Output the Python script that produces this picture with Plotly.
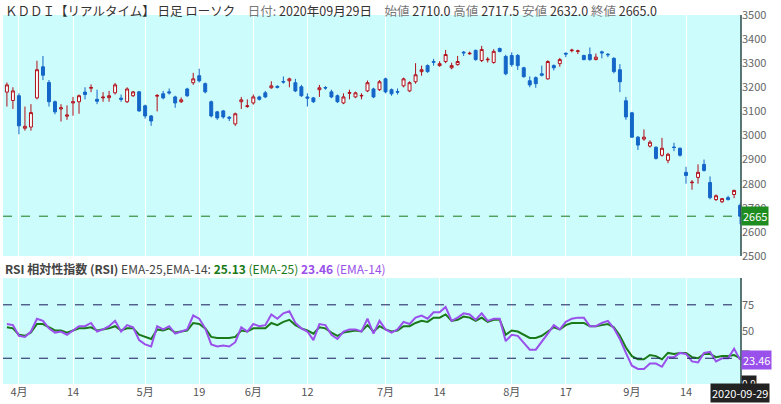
import pandas as pd
import plotly.graph_objects as go
from plotly.subplots import make_subplots

holidays = ["2020-04-29","2020-05-04","2020-05-05","2020-05-06","2020-07-23","2020-07-24","2020-08-10","2020-09-21","2020-09-22"]
dates = [d for d in pd.bdate_range("2020-03-30","2020-09-29").strftime("%Y-%m-%d") if d not in holidays]

opens = [3180,3145,3165,3030,3035,3156,3285,3220,3140,3110,3080,3135,3140,3180,3196,3150,3156,3157,3177,3155,
 3140,3165,3181,3123,3081,3163,3173,3181,3160,3140,3193,3219,3248,3215,3140,3098,3102,3076,3048,3140,
 3120,3135,3160,3177,3198,3204,3224,3227,3219,3202,3160,3156,3190,3199,3181,3165,3135,3175,3160,3164,
 3185,3193,3190,3235,3190,3182,3206,3185,3223,3265,3290,3307,3290,3307,3281,3294,3346,3339,3353,3311,
 3314,3303,3361,3328,3332,3332,3281,3227,3240,3256,3235,3290,3298,3341,3352,3349,3332,3336,3315,3347,
 3337,3320,3273,3144,3094,2993,2985,2956,2951,2918,2897,2952,2947,2847,2804,2826,2880,2805,2734,2725,
 2742,2755,2710]
closes = [3210,3185,3040,3038,3095,3273,3250,3140,3098,3115,3085,3140,3165,3170,3199,3142,3159,3165,3210,3150,
 3193,3181,3102,3081,3060,3166,3156,3177,3135,3148,3165,3235,3227,3181,3081,3073,3077,3072,3090,3148,
 3123,3160,3150,3160,3206,3200,3222,3235,3185,3165,3155,3140,3198,3197,3160,3140,3160,3178,3177,3166,
 3219,3160,3223,3181,3173,3180,3235,3219,3252,3273,3265,3304,3298,3336,3290,3307,3343,3341,3315,3357,
 3316,3349,3349,3256,3294,3290,3244,3210,3215,3250,3307,3281,3315,3338,3354,3351,3315,3315,3325,3343,
 3335,3265,3223,3077,2993,2960,2993,2972,2905,2947,2922,2950,2918,2834,2806,2847,2855,2742,2750,2738,
 2734,2772,2665]
highs = [3220,3200,3175,3120,3130,3310,3330,3230,3145,3130,3125,3160,3170,3200,3212,3190,3180,3185,3218,3170,
 3200,3185,3185,3128,3085,3172,3185,3195,3165,3158,3198,3260,3277,3220,3145,3102,3106,3080,3095,3160,
 3150,3170,3165,3185,3225,3208,3245,3240,3235,3210,3175,3160,3210,3205,3190,3170,3175,3190,3182,3175,
 3228,3198,3230,3240,3195,3195,3240,3225,3300,3290,3295,3318,3308,3355,3302,3330,3350,3348,3357,3372,
 3325,3358,3365,3335,3345,3338,3285,3245,3245,3290,3312,3295,3322,3345,3360,3356,3335,3365,3340,3352,
 3342,3325,3296,3160,3098,2998,3025,2980,2955,2990,2928,2970,2950,2870,2815,2880,2900,2830,2755,2740,
 2750,2775,2717.5]
lows = [3120,3110,3005,3020,3020,3150,3230,3120,3088,3058,3065,3082,3090,3150,3180,3130,3140,3140,3170,3140,
 3135,3160,3098,3070,3040,3100,3150,3170,3115,3135,3160,3210,3220,3175,3075,3065,3070,3060,3040,3110,
 3115,3128,3145,3155,3194,3195,3215,3200,3180,3160,3120,3135,3160,3190,3155,3135,3130,3150,3155,3150,
 3180,3155,3185,3175,3165,3170,3200,3180,3215,3248,3260,3290,3285,3300,3275,3290,3330,3335,3310,3305,
 3303,3298,3345,3250,3285,3272,3240,3200,3198,3245,3232,3270,3285,3325,3345,3338,3312,3310,3312,3320,
 3325,3258,3180,3065,2990,2940,2978,2950,2900,2912,2885,2935,2912,2800,2775,2800,2850,2735,2728,2720,
 2730,2740,2632]
rsi14 = [57,56,46,45,50,62,60,53,49,50,47,51,55,55,58,50,52,55,60,50,56,54,42,38,36,55,52,55,48,50,
 52,65,62,53,38,36,37,36,40,54,50,57,55,56,66,62,67,69,58,53,50,42,57,56,47,43,50,52,52,50,
 62,48,60,52,49,52,59,57,63,65,62,68,68,73,60,63,67,66,61,67,60,62,62,41,47,46,39,33,33,40,
 48,56,52,59,62,63,63,55,55,58,60,53,43,30,18,15,15,20,20,17,26,26,30,29,22,21,30,31,22,25,
 25,34,23.46]
rsi25 = [54,53,47,46,49,57,57,54,51,51,49,51,53,53,54,51,52,53,55,51,53,53,47,45,43,52,51,53,49,50,
 51,58,57,53,45,44,44,44,45,51,50,53,53,53,58,56,59,61,56,53,51,48,54,53,49,46,49,50,51,50,
 56,50,55,52,50,51,55,55,58,60,59,63,63,66,60,61,64,63,60,63,59,61,61,47,51,50,47,44,44,46,
 50,54,52,56,58,58,58,55,55,56,57,54,46,35,27,24,24,28,27,24,30,29,30,30,26,25,29,29,26,27,
 27,28,25.13]
month_ticks = {"2020-04-01":"4月","2020-04-14":"14","2020-05-01":"5月","2020-05-19":"19","2020-06-01":"6月",
 "2020-06-12":"12","2020-07-01":"7月","2020-07-14":"14","2020-08-03":"8月","2020-08-17":"17",
 "2020-09-01":"9月","2020-09-14":"14"}

idx = list(range(len(dates)))
tickvals = [dates.index(d) for d in month_ticks]
ticktext = list(month_ticks.values())

BG = "#ccfcfc"
RED = "#b0101a"
BLUE = "#1466c8"
GREEN = "#1a7a1a"
PURPLE = "#9a50ea"
FONT = "Noto Sans CJK JP"

fig = make_subplots(rows=2, cols=1, shared_xaxes=True)
fig.add_trace(go.Candlestick(x=idx, open=opens, high=highs, low=lows, close=closes,
    increasing=dict(line=dict(color=RED, width=1), fillcolor="white"),
    decreasing=dict(line=dict(color=BLUE, width=1), fillcolor=BLUE),
    whiskerwidth=0, showlegend=False, hoverinfo="skip"), row=1, col=1)
fig.add_trace(go.Scatter(x=idx, y=rsi25, mode="lines", line=dict(color=GREEN, width=2), showlegend=False), row=2, col=1)
fig.add_trace(go.Scatter(x=idx, y=rsi14, mode="lines", line=dict(color=PURPLE, width=2), showlegend=False), row=2, col=1)

xr = [-0.65, len(dates) - 0.85]
common_x = dict(range=xr, showgrid=True, gridcolor="white", gridwidth=1, tickvals=tickvals, zeroline=False,
                showline=False, fixedrange=True)
fig.update_layout(
    width=781, height=404, margin=dict(l=3, r=40, t=15, b=20),
    paper_bgcolor="white", plot_bgcolor=BG, font=dict(family=FONT, size=11, color="#444"),
    xaxis=dict(domain=[0, 1], showticklabels=False, rangeslider=dict(visible=False), **common_x),
    xaxis2=dict(domain=[0, 1], ticktext=ticktext, ticks="", tickfont=dict(size=11, color="#555"), **common_x),
    yaxis=dict(domain=[0.347, 1], range=[2500, 3500], dtick=100, side="right", showgrid=False,
               zeroline=False, tickfont=dict(size=11, color="#666"), ticks=""),
    yaxis2=dict(domain=[0, 0.287], range=[0.9, 100], tickvals=[50, 75], side="right", showgrid=False,
                zeroline=False, tickfont=dict(size=11, color="#666"), ticks=""),
)
fig.add_shape(type="line", xref="paper", yref="y", x0=0, x1=1, y0=2665, y1=2665,
              line=dict(color=GREEN, width=1, dash="dash"))
for v in (75, 25):
    fig.add_shape(type="line", xref="paper", yref="y2", x0=0, x1=1, y0=v, y1=v,
                  line=dict(color="#1a1a5a", width=1, dash="dash"))
for yr in ("y domain", "y2 domain"):
    fig.add_shape(type="line", xref="paper", yref=yr, x0=1, x1=1, y0=0, y1=1,
                  line=dict(color="#2a4a4a", width=1.5))

ann = []
ann.append(dict(xref="paper", yref="paper", x=0, y=1.0135, xanchor="left", yanchor="middle", showarrow=False,
    text="ＫＤＤＩ【リアルタイム】 日足 ローソク　<span style='color:#777'>日付:</span> 2020年09月29日　<span style='color:#777'>始値</span> 2710.0 <span style='color:#777'>高値</span> 2717.5 <span style='color:#777'>安値</span> 2632.0 <span style='color:#777'>終値</span> 2665.0",
    font=dict(size=12.5, color="#333")))
ann.append(dict(xref="paper", yref="paper", x=0, y=0.314, xanchor="left", yanchor="middle", showarrow=False,
    text=f"<b>RSI 相対性指数 (RSI)</b> EMA-25,EMA-14: <span style='color:{GREEN}'><b>25.13</b> (EMA-25)</span> <span style='color:{PURPLE}'><b>23.46</b> (EMA-14)</span>",
    font=dict(size=12, color="#444")))
ann.append(dict(xref="paper", yref="y", x=1, y=2665, xanchor="left", yanchor="middle", showarrow=False,
    text="2665", bgcolor="#1e8c1e", font=dict(color="white", size=11), borderpad=1))
ann.append(dict(xref="paper", yref="y2", x=1, y=27.5, xanchor="left", yanchor="middle", showarrow=False,
    text="     ", bgcolor=GREEN, font=dict(color="white", size=6), borderpad=0))
ann.append(dict(xref="paper", yref="y2", x=1, y=23.46, xanchor="left", yanchor="middle", showarrow=False,
    text="23.46", bgcolor=PURPLE, font=dict(color="white", size=11), borderpad=1))
ann.append(dict(xref="paper", yref="y2", x=1, y=0.9, xanchor="left", yanchor="middle", showarrow=False,
    text="0.9", bgcolor="#222", font=dict(color="white", size=10), borderpad=0))
ann.append(dict(xref="x2", yref="paper", x=len(dates) - 1, y=0, yshift=-9, xanchor="center", yanchor="middle",
    showarrow=False, text="2020-09-29", bgcolor="#222", font=dict(color="white", size=11), borderpad=1))
fig.update_layout(annotations=ann)
fig.write_html("out.html", config={"displayModeBar": False},
               post_script="document.body.style.margin='0';document.body.style.overflow='hidden';")
